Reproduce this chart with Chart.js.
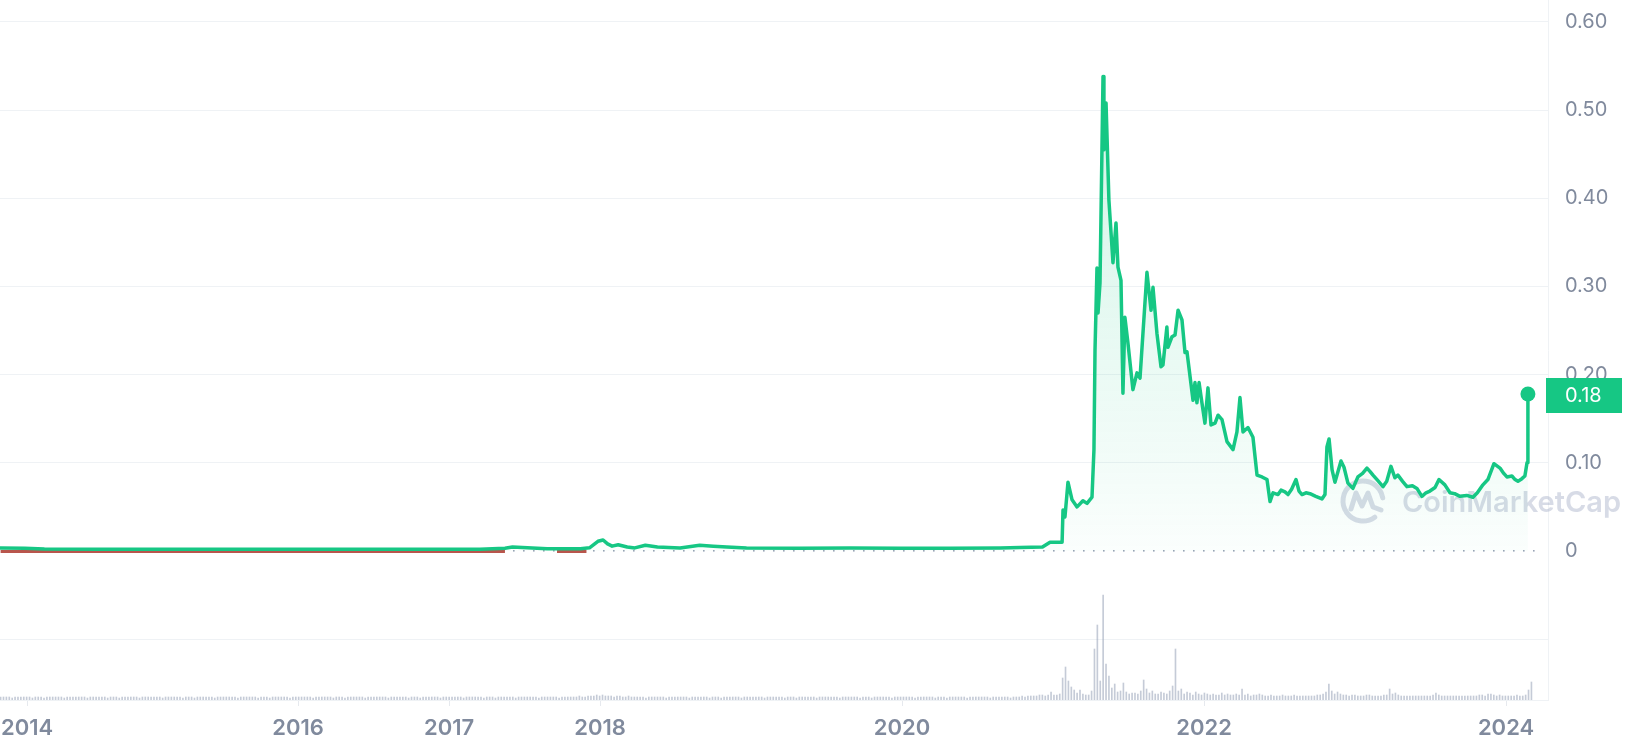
<!DOCTYPE html>
<html>
<head>
<meta charset="utf-8">
<script src="https://cdn.jsdelivr.net/npm/chart.js@4.4.1/dist/chart.umd.min.js"></script>
<style>
    html, body { margin: 0; padding: 0; background: #fff; }
</style>
</head>
<body>
<canvas id="priceChart" width="1630" height="752"></canvas>
<script>
// price line, x in decimal years
var priceDates = [
    2014.03, 2014.19, 2014.32, 2014.69, 2015.35, 2016.01, 2016.68, 2017.205, 2017.37, 2017.42,
    2017.65, 2017.87, 2017.93, 2017.986, 2018.02, 2018.05, 2018.08, 2018.12, 2018.18, 2018.23,
    2018.30, 2018.38, 2018.53, 2018.66, 2018.75, 2018.84, 2018.97, 2019.32, 2019.655, 2019.99,
    2020.32, 2020.65, 2020.78, 2020.93, 2020.98, 2021.06, 2021.066, 2021.079, 2021.099, 2021.126,
    2021.159, 2021.198, 2021.225, 2021.258, 2021.271, 2021.278, 2021.291, 2021.298, 2021.311, 2021.324,
    2021.331, 2021.337, 2021.351, 2021.357, 2021.370, 2021.397, 2021.417, 2021.430, 2021.450, 2021.463,
    2021.476, 2021.496, 2021.529, 2021.556, 2021.576, 2021.622, 2021.649, 2021.662, 2021.688, 2021.715,
    2021.728, 2021.754, 2021.761, 2021.788, 2021.808, 2021.828, 2021.854, 2021.874, 2021.887, 2021.927,
    2021.940, 2021.953, 2021.967, 2021.986, 2022.006, 2022.026, 2022.046, 2022.073, 2022.093, 2022.119,
    2022.152, 2022.192, 2022.218, 2022.238, 2022.258, 2022.291, 2022.324, 2022.351, 2022.384, 2022.417,
    2022.437, 2022.457, 2022.490, 2022.510, 2022.536, 2022.556, 2022.580, 2022.609, 2022.629, 2022.649,
    2022.675, 2022.702, 2022.740, 2022.781, 2022.801, 2022.814, 2022.828, 2022.848, 2022.867, 2022.907,
    2022.927, 2022.953, 2022.986, 2023.019, 2023.050, 2023.079, 2023.100, 2023.119, 2023.150, 2023.185,
    2023.210, 2023.238, 2023.264, 2023.284, 2023.315, 2023.344, 2023.380, 2023.410, 2023.443, 2023.470,
    2023.496, 2023.530, 2023.556, 2023.595, 2023.629, 2023.660, 2023.695, 2023.740, 2023.781, 2023.810,
    2023.847, 2023.880, 2023.920, 2023.960, 2023.985, 2024.006, 2024.039, 2024.060, 2024.079, 2024.105,
    2024.125, 2024.139, 2024.145
];
var priceValues = [
    0.0034, 0.0032, 0.0022, 0.002, 0.002, 0.002, 0.002, 0.002, 0.0032, 0.0045,
    0.0026, 0.0026, 0.0036, 0.011, 0.0125, 0.008, 0.0055, 0.007, 0.0045, 0.0035,
    0.0065, 0.0045, 0.0035, 0.0065, 0.0055, 0.0045, 0.0035, 0.003, 0.0035, 0.003,
    0.003, 0.0035, 0.004, 0.0045, 0.010, 0.010, 0.0465, 0.0386, 0.078, 0.058,
    0.050, 0.057, 0.054, 0.061, 0.115, 0.228, 0.321, 0.270, 0.304, 0.455,
    0.538, 0.455, 0.508, 0.508, 0.398, 0.327, 0.372, 0.322, 0.307, 0.179,
    0.265, 0.236, 0.183, 0.202, 0.196, 0.316, 0.273, 0.299, 0.247, 0.209,
    0.211, 0.254, 0.231, 0.243, 0.245, 0.273, 0.262, 0.225, 0.226, 0.171,
    0.191, 0.168, 0.191, 0.168, 0.145, 0.185, 0.143, 0.145, 0.154, 0.149,
    0.124, 0.115, 0.135, 0.174, 0.135, 0.140, 0.129, 0.086, 0.084, 0.081,
    0.056, 0.066, 0.064, 0.069, 0.067, 0.064, 0.070, 0.081, 0.068, 0.064,
    0.066, 0.065, 0.062, 0.059, 0.064, 0.118, 0.127, 0.092, 0.078, 0.102,
    0.095, 0.077, 0.071, 0.084, 0.088, 0.094, 0.090, 0.086, 0.080, 0.073,
    0.079, 0.096, 0.083, 0.086, 0.079, 0.073, 0.074, 0.071, 0.062, 0.066,
    0.068, 0.072, 0.081, 0.075, 0.066, 0.065, 0.062, 0.063, 0.061, 0.066,
    0.075, 0.081, 0.099, 0.094, 0.088, 0.084, 0.085, 0.081, 0.079, 0.082,
    0.085, 0.100, 0.178
];

// stretches where the price sat just under the starting price (drawn red)
var belowStartDates = [2014.03, 2017.37, 2017.40, 2017.715, 2017.91];
var belowStartValues = [-0.0006, -0.0006, null, -0.0006, -0.0006];

// weekly volume, first bar at volumeWeekStart
var volumeWeekStart = 2014.03;
var volumeWeekStep = 7 / 365.25;
var weeklyVolume = [
    // 2014
    3,3,3,3,2,3,3,3,3,3,3,2,3, 3,3,2,3,3,3,3,3,3,2,3,3,3, 3,3,3,3,2,3,3,3,3,3,3,2,3, 3,3,2,3,3,3,3,3,3,2,3,3,3,
    // 2015
    3,3,3,3,2,3,3,3,3,3,3,2,3, 3,3,2,3,3,3,3,3,3,2,3,3,3, 3,3,3,3,2,3,3,3,3,3,3,2,3, 3,3,2,3,3,3,3,3,3,2,3,3,3,
    // 2016
    3,3,3,3,2,3,3,3,3,3,3,2,3, 3,3,2,3,3,3,3,3,3,2,3,3,3, 3,3,3,3,2,3,3,3,3,3,3,2,3, 3,3,2,3,3,3,3,3,3,2,3,3,3,
    // 2017
    3,3,3,3,2,3,3,3,3,3,3,2,3, 3,3,2,3,3,3,3,3,3,2,3,3,3, 3,3,3,3,2,3,3,3,3,3,3,2,3, 3,3,3,3,3,4,3,3,4,4,4,5,4,
    // 2018
    5,4,4,4,3,4,4,3,3,4,3,3,3, 3,3,2,3,3,3,3,3,3,2,3,3,3, 3,3,3,3,2,3,3,3,3,3,3,2,3, 3,3,2,3,3,3,3,3,3,2,3,3,3,
    // 2019
    3,3,3,3,2,3,3,3,3,3,3,2,3, 3,3,2,3,3,3,3,3,3,2,3,3,3, 3,3,3,3,2,3,3,3,3,3,3,2,3, 3,3,2,3,3,3,3,3,3,2,3,3,3,
    // 2020
    3,3,3,3,2,3,3,3,3,3,3,2,3, 3,3,2,3,3,3,3,3,3,2,3,3,3, 3,3,3,3,2,3,3,3,3,3,3,2,3, 3,3,4,3,4,4,4,4,5,5,4,5,8,
    // 2021
    5,5,6,22,33,19,13,10,7,10,6,5,5, 9,51,75,19,105,36,24,12,16,8,9,17,8,
    6,7,7,6,9,20,11,7,9,6,6,8,7, 6,9,14,51,9,11,6,8,7,5,8,6,5,
    // 2022
    7,6,5,6,5,5,7,5,6,5,5,6,5, 11,5,6,4,5,5,6,5,4,4,5,4,4,
    4,5,4,4,4,5,4,4,4,4,4,4,4, 5,5,6,8,16,9,6,8,6,5,5,4,5,
    // 2023
    5,4,4,4,5,5,4,4,4,4,5,5,11, 6,7,5,4,4,4,4,4,4,4,4,4,4,
    4,5,7,5,4,4,4,4,4,4,4,4,4, 4,4,4,4,5,5,4,6,6,5,4,5,4,
    // 2024
    4,4,4,4,5,4,4,5,10,18
];
var volumeGridValue = 61;

var xTickYears = [2014.205, 2016, 2017, 2018, 2020, 2022, 2024];
var priceTicks = [0, 0.1, 0.2, 0.3, 0.4, 0.5, 0.6];

var GREEN = '#16c784';
var LABEL = '#808a9d';

function toPoints(xs, ys) {
    return xs.map(function (x, i) {
        return { x: x, y: ys[i] };
    });
}

function noPadding(scale) {
    scale.paddingTop = 0;
    scale.paddingBottom = 0;
    scale.paddingLeft = 0;
    scale.paddingRight = 0;
}

var volumePoints = weeklyVolume.map(function (v, i) {
    return { x: volumeWeekStart + i * volumeWeekStep, y: v };
});

var backdrop = {
    id: 'backdrop',
    beforeDatasetsDraw: function (chart) {
        var c = chart.ctx;
        var a = chart.chartArea;
        var y0 = Math.round(chart.scales.y.getPixelForValue(0));
        var yv = Math.round(chart.scales.yVol.getPixelForValue(volumeGridValue)) + 0.5;
        c.save();
        c.strokeStyle = '#eff2f5';
        c.lineWidth = 1;
        c.beginPath();
        c.moveTo(a.left, yv);
        c.lineTo(a.right, yv);
        c.stroke();

        c.fillStyle = '#9aa4b6';
        for (var x = a.left + 3; x < a.right - 6; x += 10) {
            c.fillRect(x, y0 - 1, 1.6, 1.6);
        }

        // watermark
        var wm = 'rgba(150,160,190,0.38)';
        c.strokeStyle = wm;
        c.fillStyle = wm;
        c.lineWidth = 5;
        c.lineCap = 'round';
        c.lineJoin = 'round';
        var cx = 1363, cy = 501, r = 20;
        c.beginPath();
        c.arc(cx, cy, r, 0.3 * Math.PI, 1.95 * Math.PI, false);
        c.stroke();
        c.beginPath();
        c.moveTo(cx - 12, cy + 8);
        c.lineTo(cx - 7, cy - 8);
        c.lineTo(cx - 1, cy + 5);
        c.lineTo(cx + 5, cy - 8);
        c.lineTo(cx + 10, cy + 6);
        c.lineTo(cx + 18, cy + 9);
        c.stroke();
        c.font = '600 29px Inter';
        c.textBaseline = 'middle';
        c.fillText('CoinMarketCap', 1402, 503);
        c.restore();
    }
};

var priceTag = {
    id: 'priceTag',
    afterDraw: function (chart) {
        var c = chart.ctx;
        var a = chart.chartArea;
        var last = priceValues[priceValues.length - 1];
        var y = Math.round(chart.scales.y.getPixelForValue(last));
        c.save();
        c.fillStyle = GREEN;
        c.fillRect(a.right - 2, y - 16, 76, 35);
        c.fillStyle = '#ffffff';
        c.font = '20px Inter';
        c.textBaseline = 'middle';
        c.textAlign = 'left';
        c.fillText(last.toFixed(2), a.right + 17, y + 2);
        c.restore();
    }
};

new Chart(document.getElementById('priceChart'), {
    type: 'line',
    data: {
        datasets: [
            {
                data: toPoints(priceDates, priceValues),
                borderColor: GREEN,
                borderWidth: 3.5,
                tension: 0,
                borderJoinStyle: 'round',
                borderCapStyle: 'round',
                fill: 'origin',
                backgroundColor: function (context) {
                    var chart = context.chart;
                    if (!chart.chartArea) {
                        return 'rgba(22,199,132,0.1)';
                    }
                    var ys = chart.scales.y;
                    var g = chart.ctx.createLinearGradient(0, ys.getPixelForValue(0.54), 0, ys.getPixelForValue(0));
                    g.addColorStop(0, 'rgba(22,199,132,0.2)');
                    g.addColorStop(1, 'rgba(22,199,132,0.02)');
                    return g;
                },
                pointRadius: function (ctx) {
                    return ctx.dataIndex === priceValues.length - 1 ? 7.5 : 0;
                },
                pointBackgroundColor: GREEN,
                pointBorderWidth: 0,
                pointHoverRadius: 0,
                order: 0,
                yAxisID: 'y'
            },
            {
                data: toPoints(belowStartDates, belowStartValues),
                borderColor: '#b9554c',
                borderWidth: 3,
                tension: 0,
                fill: false,
                pointRadius: 0,
                spanGaps: false,
                order: 1,
                yAxisID: 'y'
            },
            {
                type: 'bar',
                data: volumePoints,
                backgroundColor: 'rgba(150,160,182,0.55)',
                barThickness: 1,
                grouped: false,
                order: 2,
                yAxisID: 'yVol'
            }
        ]
    },
    options: {
        responsive: false,
        animation: false,
        events: [],
        layout: { padding: 0, autoPadding: false },
        plugins: {
            legend: { display: false },
            tooltip: { enabled: false }
        },
        scales: {
            x: {
                type: 'linear',
                position: 'bottom',
                min: 2014.026,
                max: 2024.278,
                offset: false,
                afterBuildTicks: function (scale) {
                    scale.ticks = xTickYears.map(function (v) { return { value: v }; });
                },
                afterFit: function (scale) {
                    scale.height = 52;
                    noPadding(scale);
                },
                ticks: {
                    autoSkip: false,
                    maxRotation: 0,
                    padding: 9,
                    color: LABEL,
                    font: { family: 'Inter', size: 22, weight: '600' },
                    callback: function (value) {
                        return String(Math.floor(value));
                    }
                },
                grid: {
                    offset: false,
                    drawOnChartArea: false,
                    tickLength: 6,
                    color: '#e6e9ee'
                },
                border: { display: true, color: '#eff2f5' }
            },
            y: {
                type: 'linear',
                position: 'right',
                min: -0.169,
                max: 0.6249,
                afterBuildTicks: function (scale) {
                    scale.ticks = priceTicks.map(function (v) { return { value: v }; });
                },
                afterFit: function (scale) {
                    scale.width = 82;
                    noPadding(scale);
                },
                ticks: {
                    padding: 17,
                    color: LABEL,
                    font: { family: 'Inter', size: 20 },
                    callback: function (value) {
                        return value === 0 ? '0' : value.toFixed(2);
                    }
                },
                grid: {
                    drawTicks: false,
                    tickLength: 0,
                    color: function (ctx) {
                        return ctx.tick && ctx.tick.value === 0 ? 'rgba(0,0,0,0)' : '#eff2f5';
                    }
                },
                border: { display: true, color: '#eff2f5' }
            },
            yVol: {
                type: 'linear',
                display: false,
                min: 0,
                max: 700,
                afterFit: noPadding
            }
        }
    },
    plugins: [backdrop, priceTag]
});
</script>
</body>
</html>
